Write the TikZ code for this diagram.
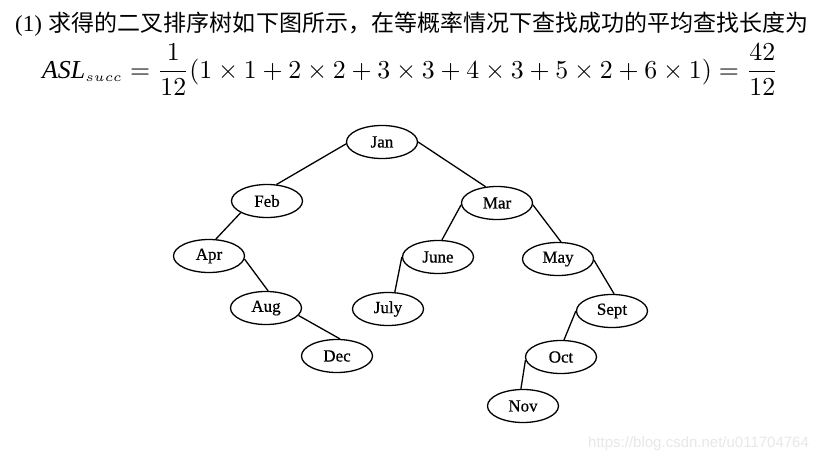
\documentclass[tikz,border=0pt]{standalone}
\usepackage{graphicx}
\usepackage{fontspec}
\setmainfont{Liberation Serif}
\newfontfamily\cjk{Noto Sans CJK SC}
\newfontfamily\wmfont{Liberation Sans}
\newfontfamily\labelfont[FakeBold=0.6]{Liberation Serif}
\usetikzlibrary{shapes.geometric}
\tikzset{
  month/.style={ellipse, draw, line width=1.3pt, minimum width=71pt, minimum height=33pt, inner sep=0pt, font=\labelfont\fontsize{17}{20}\selectfont},
  treeedge/.style={line width=1.3pt},
  plaintext/.style={inner sep=0pt, anchor=base west}
}
\begin{document}
\begin{tikzpicture}[x=1pt,y=-1pt]
\useasboundingbox[fill=white] (0,0) rectangle (831,458);
% header
\node[plaintext] (head) at (15,31) {\resizebox{793pt}{!}{\fontsize{22}{26}\selectfont (1)\hspace{0.3em}\cjk 求得的二叉排序树如下图所示，在等概率情况下查找成功的平均查找长度为}};
\node[plaintext] (formula) at (42,78) {\resizebox{736pt}{!}{$\displaystyle \mathit{ASL}_{\scriptscriptstyle succ}=\frac{1}{12}(1\times1+2\times2+3\times3+4\times3+5\times2+6\times1)=\frac{42}{12}$}};
% nodes
\node[month] (jan)  at (382,142) {Jan};
\node[month] (feb)  at (267,201) {Feb};
\node[month] (mar)  at (497,203) {Mar};
\node[month] (apr)  at (209,256) {Apr};
\node[month] (june) at (438,257) {June};
\node[month] (may)  at (558,259) {May};
\node[month] (aug)  at (266,308) {Aug};
\node[month] (july) at (388,309) {July};
\node[month] (sept) at (612,311) {Sept};
\node[month] (dec)  at (337,356) {Dec};
\node[month] (oct)  at (561,357) {Oct};
\node[month] (nov)  at (523,406) {Nov};
% edges
\draw[treeedge] (jan.183) -- (feb.60);
\draw[treeedge] (jan.0) -- (mar.125);
\draw[treeedge] (feb.204) -- (apr.68);
\draw[treeedge] (apr.355) -- (aug.83);
\draw[treeedge] (aug.347) -- (dec.80);
\draw[treeedge] (mar.183) -- (june.77);
\draw[treeedge] (mar.357) -- (may.80);
\draw[treeedge] (june.180) -- (july.68);
\draw[treeedge] (may.358) -- (sept.83);
\draw[treeedge] (sept.180) -- (oct.80);
\draw[treeedge] (oct.185) -- (nov.97);
% watermark
\node[plaintext, text=black!9, font=\wmfont\fontsize{15}{18}\selectfont] (wm) at (588,447) {https://blog.csdn.net/u011704764};
\end{tikzpicture}
\end{document}
